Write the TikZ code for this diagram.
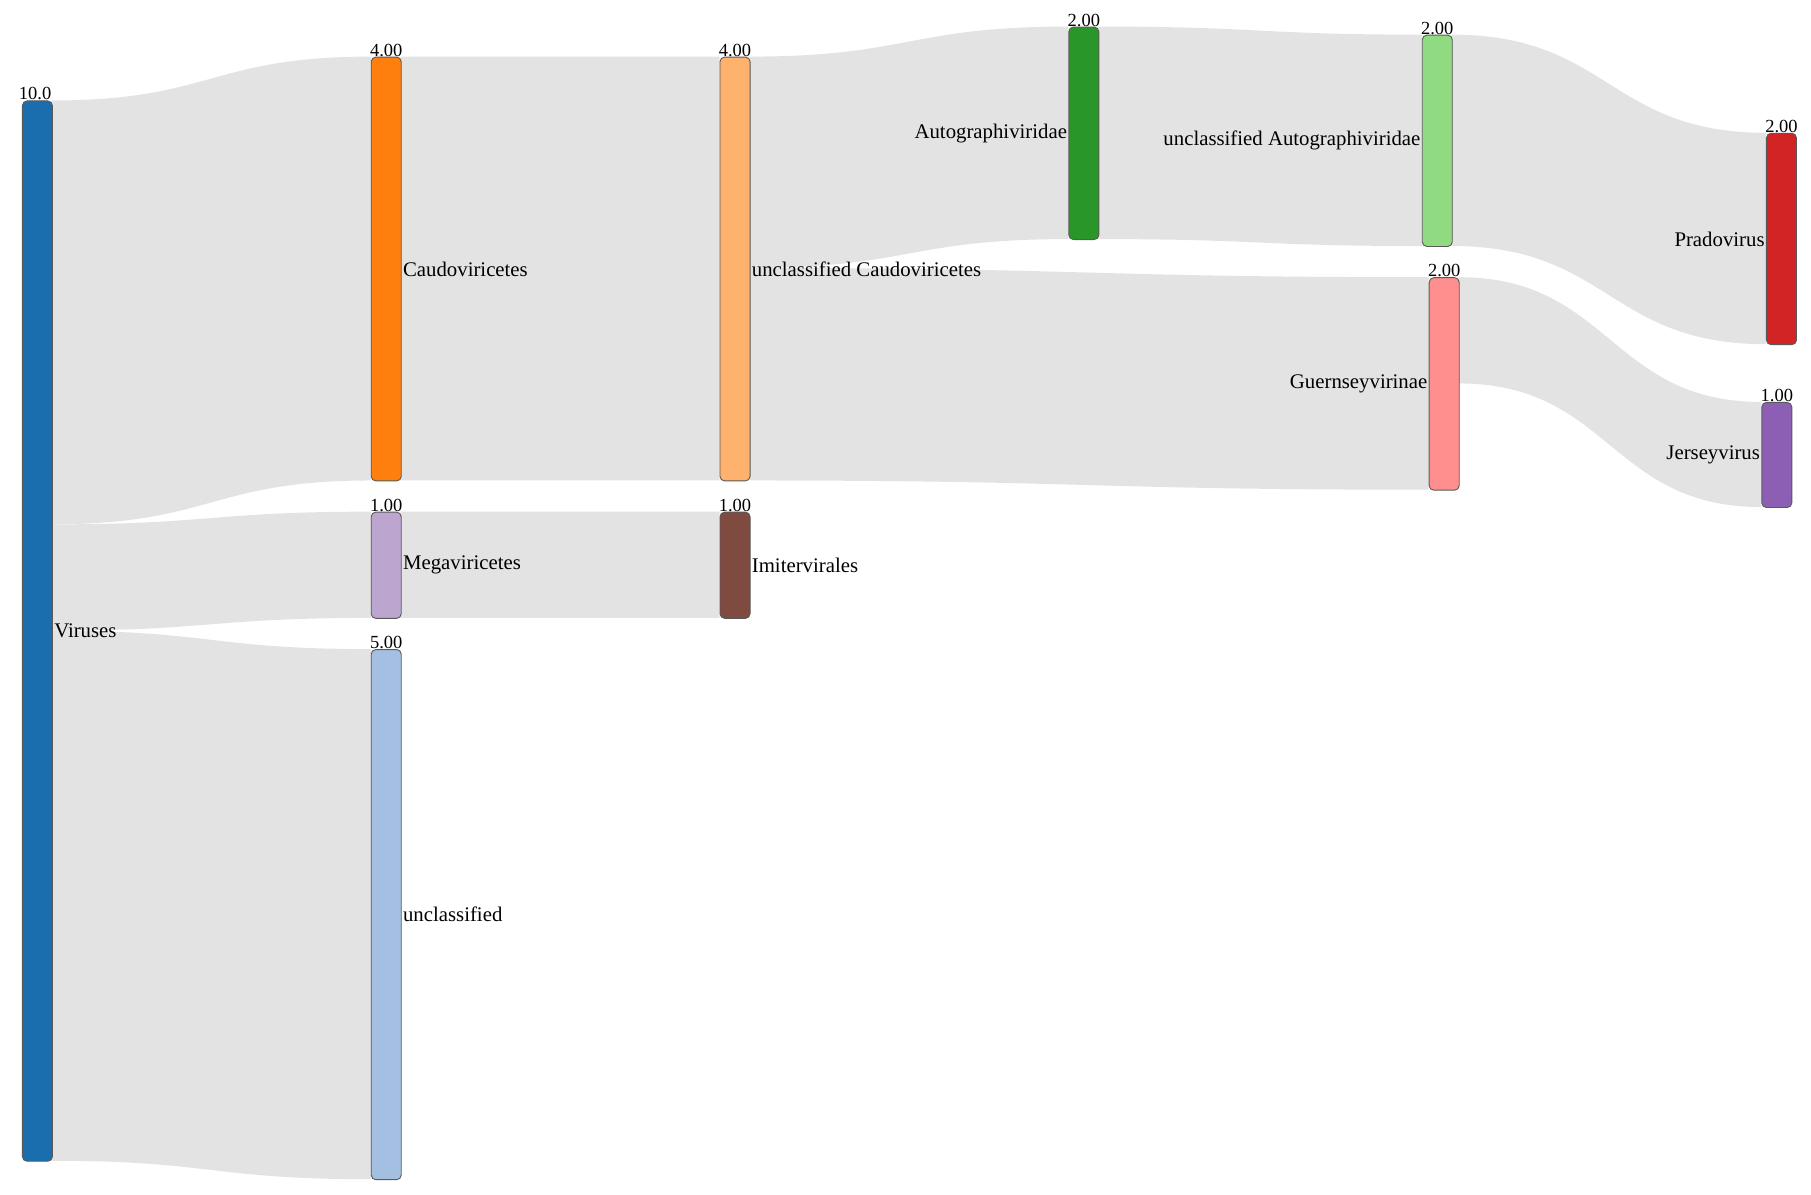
\documentclass[tikz,border=0pt]{standalone}
\usepackage{fontspec}
\setmainfont{Liberation Serif}
\begin{document}
\begin{tikzpicture}[x=1pt,y=-1pt,
  nd/.style={draw=black!65,line width=0.8pt,rounded corners=4pt,minimum width=26pt,inner sep=0pt,anchor=north west},
  lab/.style={font=\fontsize{18}{20}\selectfont,inner sep=1pt},
  val/.style={font=\fontsize{16}{18}\selectfont,inner sep=0pt,anchor=south}]
\useasboundingbox (0,0) rectangle (1568,1034);
\newcommand{\lnk}[6]{\fill[gray!22] (#1,#2) .. controls ({(#1+#4)/2},#2) and ({(#1+#4)/2},#5) .. (#4,#5) -- (#4,#6) .. controls ({(#1+#4)/2},#6) and ({(#1+#4)/2},#3) .. (#1,#3) -- cycle;}
% links
\lnk{45}{87}{454}{321}{49}{416}
\lnk{45}{454}{546}{321}{443}{535}
\lnk{45}{546}{1005}{321}{562}{1021}
\lnk{347}{49}{416}{623}{49}{416}
\lnk{347}{443}{535}{623}{443}{535}
\lnk{649}{49}{232}{925}{23}{207}
\lnk{649}{232}{416}{1237}{240}{424}
\lnk{951}{23}{207}{1231}{30}{213}
\lnk{1257}{30}{213}{1529}{115}{298}
\lnk{1263}{240}{332}{1525}{348}{439}
% nodes
\definecolor{cv}{HTML}{1A6EAE}
\node[nd,fill=cv,minimum height=918pt] (vir) at (19,87) {};
\node[nd,fill={rgb,255:red,255;green,127;blue,14},minimum height=367pt] (cau) at (321,49) {};
\node[nd,fill={rgb,255:red,188;green,166;blue,207},minimum height=92pt] (meg) at (321,443) {};
\node[nd,fill={rgb,255:red,165;green,191;blue,227},minimum height=459pt] (unc) at (321,562) {};
\node[nd,fill={rgb,255:red,255;green,178;blue,110},minimum height=367pt] (ucc) at (623,49) {};
\node[nd,fill={rgb,255:red,127;green,74;blue,64},minimum height=92pt] (imi) at (623,443) {};
\node[nd,fill={rgb,255:red,40;green,150;blue,40},minimum height=184pt] (aut) at (925,23) {};
\node[nd,fill={rgb,255:red,144;green,218;blue,130},minimum height=183pt] (uca) at (1231,30) {};
\node[nd,fill={rgb,255:red,255;green,143;blue,143},minimum height=184pt] (gue) at (1237,240) {};
\node[nd,fill={rgb,255:red,210;green,35;blue,37},minimum height=183pt] (pra) at (1529,115) {};
\node[nd,fill={rgb,255:red,140;green,95;blue,180},minimum height=91pt] (jer) at (1525,348) {};
% labels
\node[lab,anchor=west] at (vir.east) {Viruses};
\node[lab,anchor=west] at (cau.east) {Caudoviricetes};
\node[lab,anchor=west] at (meg.east) {Megaviricetes};
\node[lab,anchor=west] at (unc.east) {unclassified};
\node[lab,anchor=west] at (ucc.east) {unclassified Caudoviricetes};
\node[lab,anchor=west] at (imi.east) {Imitervirales};
\node[lab,anchor=east] at (aut.west) {Autographiviridae};
\node[lab,anchor=east] at (uca.west) {unclassified Autographiviridae};
\node[lab,anchor=east] at (gue.west) {Guernseyvirinae};
\node[lab,anchor=east] at (pra.west) {Pradovirus};
\node[lab,anchor=east] at (jer.west) {Jerseyvirus};
% values
\node[val] at ([xshift=-2pt]vir.north) {10.0};
\node[val] at (cau.north) {4.00};
\node[val] at (meg.north) {1.00};
\node[val] at (unc.north) {5.00};
\node[val] at (ucc.north) {4.00};
\node[val] at (imi.north) {1.00};
\node[val] at (aut.north) {2.00};
\node[val] at (uca.north) {2.00};
\node[val] at (gue.north) {2.00};
\node[val] at (pra.north) {2.00};
\node[val] at (jer.north) {1.00};
\end{tikzpicture}
\end{document}
